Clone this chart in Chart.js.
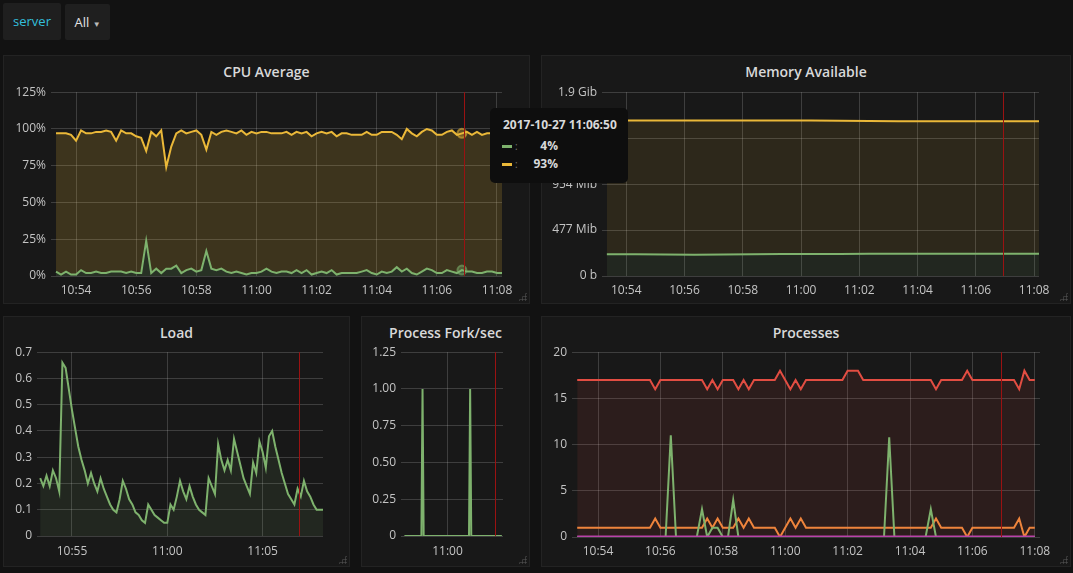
<!DOCTYPE html>
<html><head><meta charset="utf-8">
<script src="https://cdn.jsdelivr.net/npm/chart.js@4.4.0/dist/chart.umd.min.js"></script>
<style>
html,body{margin:0;padding:0;background:#121212;width:1073px;height:573px;overflow:hidden;font-family:"Open Sans",sans-serif;}
.btn{position:absolute;background:#1f1f1f;border-radius:2px;font-size:13px;text-align:center;box-sizing:border-box;}
.panel{position:absolute;background:#181818;border:1px solid #232323;box-sizing:border-box;}
.title{position:absolute;left:0;right:0;text-align:center;font-weight:600;font-size:14px;color:#d8d9da;line-height:18px;}
.grip{position:absolute;right:2px;bottom:2px;width:9px;height:9px;background:radial-gradient(circle,#4a4a4a 0.9px,transparent 1.2px) 0 0/3px 3px;clip-path:polygon(100% 0,100% 100%,0 100%);}
canvas{position:absolute;}
.tip{position:absolute;background:#0e0e0e;border-radius:5px;color:#d8d9da;font-size:12px;}
.tip .tt{position:absolute;left:13px;top:8px;font-weight:700;white-space:nowrap;line-height:18px;}
.tip .row{position:absolute;left:0;width:100%;height:18px;line-height:18px;}
.tip .sw{position:absolute;left:12px;top:8px;width:10px;height:3px;}
.tip .c{position:absolute;left:25px;top:0;color:#777;font-size:10px;}
.tip .v{position:absolute;left:30px;width:38px;text-align:right;font-weight:700;}
</style></head>
<body>
<div class="btn" style="left:3px;top:3px;width:58px;height:37px;line-height:37px;color:#33bfdc;">server</div>
<div class="btn" style="left:65px;top:4px;width:45px;height:36px;line-height:36px;color:#e3e3e3;">All <span style="font-size:8px;color:#bbb;">&#9660;</span></div>

<div class="panel" style="left:3px;top:55px;width:527px;height:249px;"><div class="title" style="top:7px;">CPU Average</div><div class="grip"></div></div>
<div class="panel" style="left:541px;top:55px;width:530px;height:249px;"><div class="title" style="top:7px;">Memory Available</div><div class="grip"></div></div>
<div class="panel" style="left:3px;top:316px;width:347px;height:251px;"><div class="title" style="top:7px;">Load</div><div class="grip"></div></div>
<div class="panel" style="left:361px;top:316px;width:169px;height:251px;"><div class="title" style="top:7px;">Process Fork/sec</div><div class="grip"></div></div>
<div class="panel" style="left:541px;top:316px;width:530px;height:251px;"><div class="title" style="top:7px;">Processes</div><div class="grip"></div></div>

<canvas id="cpu"></canvas>
<canvas id="mem"></canvas>
<canvas id="load"></canvas>
<canvas id="fork"></canvas>
<canvas id="proc"></canvas>

<div class="tip" style="left:490px;top:108px;width:138px;height:75px;">
  <div class="tt" id="tipTitle"></div>
  <div class="row" style="top:29px;"><span class="sw" style="background:#7EB26D"></span><span class="c">:</span><span class="v" id="tipV1"></span></div>
  <div class="row" style="top:47px;"><span class="sw" style="background:#EAB839"></span><span class="c">:</span><span class="v" id="tipV2"></span></div>
</div>

<script>
// ---------- DATA ----------
const times = [
 '10:53:20','10:53:30','10:53:40','10:53:50',
 '10:54:00','10:54:10','10:54:20','10:54:30','10:54:40','10:54:50',
 '10:55:00','10:55:10','10:55:20','10:55:30','10:55:40','10:55:50',
 '10:56:00','10:56:10','10:56:20','10:56:30','10:56:40','10:56:50',
 '10:57:00','10:57:10','10:57:20','10:57:30','10:57:40','10:57:50',
 '10:58:00','10:58:10','10:58:20','10:58:30','10:58:40','10:58:50',
 '10:59:00','10:59:10','10:59:20','10:59:30','10:59:40','10:59:50',
 '11:00:00','11:00:10','11:00:20','11:00:30','11:00:40','11:00:50',
 '11:01:00','11:01:10','11:01:20','11:01:30','11:01:40','11:01:50',
 '11:02:00','11:02:10','11:02:20','11:02:30','11:02:40','11:02:50',
 '11:03:00','11:03:10','11:03:20','11:03:30','11:03:40','11:03:50',
 '11:04:00','11:04:10','11:04:20','11:04:30','11:04:40','11:04:50',
 '11:05:00','11:05:10','11:05:20','11:05:30','11:05:40','11:05:50',
 '11:06:00','11:06:10','11:06:20','11:06:30','11:06:40','11:06:50',
 '11:07:00','11:07:10','11:07:20','11:07:30','11:07:40','11:07:50',
 '11:08:00','11:08:10'];

const cpuGreen = [
 3,1,3,1,1,4,2,2,3,2,
 2,3,3,3,2,3,2,2,24,2,
 5,2,5,5,7,2,4,5,3,4,
 17,5,4,5,3,2,3,2,1,2,
 2,3,5,3,2,3,3,2,4,2,
 4,1,2,3,2,4,1,2,2,2,
 2,3,4,2,1,3,2,3,6,3,
 5,2,1,3,5,4,2,2,4,3,
 2,4,3,3,2,2,3,3,2,2];
const cpuYellow = [
 94,96,94,95,91,95,95,95,95,96,
 97,95,89,96,95,94,93,92,61,96,
 90,97,69,83,90,97,93,93,96,92,
 69,93,92,93,96,96,94,97,95,96,
 95,95,93,94,95,94,95,94,94,95,
 94,94,95,95,95,94,94,95,95,94,
 94,93,94,94,95,95,96,95,90,90,
 95,95,94,95,95,95,94,94,94,96,
 94,93,95,93,96,94,94,94,95,95];

const memTimes = ['10:53:20','10:54:20','10:55:20','10:56:20','10:57:20','10:58:20','10:59:20','11:00:20',
 '11:01:20','11:02:20','11:03:20','11:04:20','11:05:20','11:06:20','11:07:20','11:08:10'];
const memGreen = [2.37e8,2.37e8,2.34e8,2.30e8,2.33e8,2.38e8,2.40e8,2.40e8,2.40e8,2.41e8,2.41e8,2.41e8,2.41e8,2.41e8,2.41e8,2.41e8];
const memYellow = [1.691e9,1.691e9,1.691e9,1.691e9,1.691e9,1.691e9,1.691e9,1.691e9,1.690e9,1.686e9,1.684e9,1.684e9,1.684e9,1.684e9,1.684e9,1.684e9];

const loadValues = [
 0.22,0.19,0.23,0.19,0.25,0.22,0.17,0.66,0.64,0.56,
 0.48,0.41,0.34,0.29,0.25,0.20,0.24,0.20,0.17,0.22,
 0.18,0.15,0.12,0.10,0.09,0.14,0.21,0.18,0.14,0.12,
 0.09,0.08,0.06,0.05,0.12,0.10,0.08,0.07,0.06,0.05,
 0.05,0.12,0.10,0.15,0.21,0.17,0.14,0.19,0.15,0.12,
 0.10,0.09,0.08,0.22,0.19,0.16,0.35,0.29,0.25,0.29,
 0.25,0.37,0.32,0.27,0.22,0.19,0.16,0.28,0.24,0.36,
 0.32,0.26,0.38,0.40,0.34,0.29,0.24,0.20,0.16,0.14,
 0.12,0.18,0.15,0.21,0.17,0.15,0.12,0.10,0.10,0.10];

const forkTimes = ['10:53:40','10:56:10','10:56:20','10:56:30','11:03:10','11:03:20','11:03:30','11:08:00'];
const forkValues = [0,0,1,0,0,1,0,0];

const procTimes = times.slice(0, 89);
const procRed = [
 17,17,17,17,17,17,17,17,17,17,17,17,17,17,17,16,17,17,17,17,
 17,17,17,17,17,16,17,16,17,17,17,16,17,16,17,17,17,17,17,18,
 17,16,17,16,17,17,17,17,17,17,17,17,18,18,18,17,17,17,17,17,
 17,17,17,17,17,17,17,17,17,16,17,17,17,17,17,18,17,17,17,17,
 17,17,17,17,17,16,18,17,17];
const procOrange = [
 1,1,1,1,1,1,1,1,1,1,1,1,1,1,1,2,1,1,1,1,
 1,1,1,1,1,2,1,2,1,1,1,2,1,2,1,1,1,1,1,0,
 1,2,1,2,1,1,1,1,1,1,1,1,1,1,1,1,1,1,1,1,
 1,1,1,1,1,1,1,1,1,2,1,1,1,1,1,0,1,1,1,1,
 1,1,1,1,1,2,0,1,1];
const procGreen = [
 0,0,0,0,0,0,0,0,0,0,0,0,0,0,0,0,0,0,11,0,
 0,0,0,0,3,0,1,1,0,0,4,0,0,0,0,0,0,0,0,0,
 0,0,0,0,0,0,0,0,0,0,0,0,0,0,0,0,0,0,0,0,
 10.8,0,0,0,0,0,0,0,3,0,0,0,0,0,0,0,0,0,0,0,
 0,0,0,0,0,0,0,0,0];
const procMagenta = [
 0,0,0,0,0,0,0,0,0,0,0,0,0,0,0,0,0,0,0,0,
 0,0,0,0,0,0,0,0,0,0,0,0,0,0,0,0,0,0,0,0,
 0,0,0,0,0,0,0,0,0,0,0,0,0,0,0,0,0,0,0,0,
 0,0,0,0,0,0,0,0,0,0,0,0,0,0,0,0,0,0,0,0,
 0,0,0,0,0,0,0,0,0];

const xTicksWide = ['10:54','10:56','10:58','11:00','11:02','11:04','11:06','11:08'];
const xTicksLoad = ['10:55','11:00','11:05'];
const xTicksFork = ['11:00'];
const cpuYValues = [0,25,50,75,100,125];
const cpuYLabels = ['0%','25%','50%','75%','100%','125%'];
const memYValues = [0,5e8,1e9,1.5e9,2e9];
const memYLabels = ['0 b','477 Mib','954 Mib','1.4 Gib','1.9 Gib'];
const loadYValues = [0,0.1,0.2,0.3,0.4,0.5,0.6,0.7];
const loadYLabels = ['0','0.1','0.2','0.3','0.4','0.5','0.6','0.7'];
const forkYValues = [0,0.25,0.5,0.75,1,1.25];
const forkYLabels = ['0','0.25','0.50','0.75','1.00','1.25'];
const procYValues = [0,5,10,15,20];
const procYLabels = ['0','5','10','15','20'];

const rangeStart = '10:53:10', rangeEnd = '11:08:10';
const crossTime = '11:06:55';
const hoverIndex = 81;
const tooltipDate = '2017-10-27';

// ---------- RENDER ----------
function toSec(s){ const p = s.split(':').map(Number); return p[0]*3600 + p[1]*60 + (p[2]||0); }
function fmtHM(v){ const h = Math.floor(v/3600), m = Math.floor((v%3600)/60); return String(h).padStart(2,'0')+':'+String(m).padStart(2,'0'); }
function pts(ts, vs){ return vs.map((v,i)=>({x:toSec(ts[i]), y:v})); }

const GREEN='#7EB26D', YELLOW='#EAB839', RED='#E24D42', ORANGE='#EF843C', MAGENTA='#BA43A9';
const gridColor='rgba(255,255,255,0.17)', tickColor='#c4c4c4';
const tickFont={family:'"Open Sans", sans-serif', size:12};

const crossPlugin = {
  id:'cross',
  afterDatasetsDraw(chart){
    const x = Math.round(chart.scales.x.getPixelForValue(toSec(crossTime))) + 0.5;
    const a = chart.chartArea, ctx = chart.ctx;
    ctx.save(); ctx.strokeStyle='#9a1212'; ctx.lineWidth=1;
    ctx.beginPath(); ctx.moveTo(x, a.top); ctx.lineTo(x, a.bottom); ctx.stroke(); ctx.restore();
  }
};

function make(id, box, datasets, o){
  const cv = document.getElementById(id);
  cv.style.left = box.l+'px'; cv.style.top = box.t+'px';
  cv.width = box.w; cv.height = box.h;
  cv.style.width = box.w+'px'; cv.style.height = box.h+'px';
  return new Chart(cv, {
    type:'line',
    data:{datasets},
    plugins:[crossPlugin],
    options:{
      responsive:false, animation:false, events:[],
      layout:{padding:{top:o.pt, right:o.pr, left:0, bottom:0}},
      plugins:{legend:{display:false}, tooltip:{enabled:false}},
      elements:{point:{radius:0}, line:{tension:0, borderWidth:2}},
      scales:{
        x:{type:'linear', min:toSec(rangeStart), max:toSec(rangeEnd),
          afterBuildTicks:s=>{ s.ticks = o.xTicks.map(t=>({value:toSec(t)})); },
          afterFit:s=>{ s.height = o.hx; },
          ticks:{autoSkip:false, maxRotation:0, padding:o.xpad, color:tickColor, font:tickFont, callback:v=>fmtHM(v)},
          grid:{color:gridColor, drawTicks:false}, border:{display:false}},
        y:{type:'linear', min:0, max:o.yVals[o.yVals.length-1], stacked:!!o.stacked,
          afterBuildTicks:s=>{ s.ticks = o.yVals.map(v=>({value:v})); },
          afterFit:s=>{ s.width = o.wy; },
          ticks:{padding:5, color:tickColor, font:tickFont, callback:(v,i)=>o.yLabels[i]},
          grid:{color:gridColor, drawTicks:false}, border:{display:false}}
      }
    }
  });
}

function hoverR(ctx){ return ctx.dataIndex===hoverIndex ? 4.5 : 0; }

function draw(){
  make('cpu', {l:4,t:80,w:524,h:222}, [
    {data:pts(times,cpuGreen), borderColor:GREEN, backgroundColor:'rgba(126,178,109,0.17)', fill:'origin',
     pointRadius:hoverR, pointBackgroundColor:'rgba(126,178,109,0.35)', pointBorderColor:'rgba(126,178,109,0.55)', pointBorderWidth:2},
    {data:pts(times,cpuYellow), borderColor:YELLOW, backgroundColor:'rgba(234,184,57,0.18)', fill:'-1',
     pointRadius:hoverR, pointBackgroundColor:'rgba(234,184,57,0.35)', pointBorderColor:'rgba(234,184,57,0.55)', pointBorderWidth:2}
  ], {pt:10, pr:26, wy:47, hx:26, xpad:7, xTicks:xTicksWide, yVals:cpuYValues, yLabels:cpuYLabels, stacked:true});

  make('mem', {l:542,t:80,w:527,h:222}, [
    {data:pts(memTimes,memGreen), borderColor:GREEN, backgroundColor:'rgba(126,178,109,0.1)', fill:'origin'},
    {data:pts(memTimes,memYellow), borderColor:YELLOW, backgroundColor:'rgba(234,184,57,0.1)', fill:'-1'}
  ], {pt:10, pr:30, wy:60, hx:26, xpad:7, xTicks:xTicksWide, yVals:memYValues, yLabels:memYLabels});

  make('load', {l:4,t:340,w:344,h:225}, [
    {data:pts(times,loadValues), borderColor:GREEN, backgroundColor:'rgba(126,178,109,0.1)', fill:'origin'}
  ], {pt:11, pr:25, wy:33, hx:29, xpad:8, xTicks:xTicksLoad, yVals:loadYValues, yLabels:loadYLabels});

  make('fork', {l:362,t:340,w:166,h:225}, [
    {data:pts(forkTimes,forkValues), borderColor:GREEN, backgroundColor:'rgba(126,178,109,0.1)', fill:'origin'}
  ], {pt:11, pr:25, wy:39, hx:29, xpad:8, xTicks:xTicksFork, yVals:forkYValues, yLabels:forkYLabels});

  make('proc', {l:542,t:340,w:527,h:225}, [
    {data:pts(procTimes,procMagenta), borderColor:MAGENTA, borderWidth:3, fill:false},
    {data:pts(procTimes,procGreen), borderColor:GREEN, fill:false},
    {data:pts(procTimes,procOrange), borderColor:ORANGE, fill:false},
    {data:pts(procTimes,procRed), borderColor:RED, backgroundColor:'rgba(226,77,66,0.1)', fill:'origin'}
  ], {pt:11, pr:29, wy:30, hx:28, xpad:7, xTicks:xTicksWide, yVals:procYValues, yLabels:procYLabels});

  document.getElementById('tipTitle').textContent = tooltipDate + ' ' + times[hoverIndex];
  document.getElementById('tipV1').textContent = cpuGreen[hoverIndex] + '%';
  document.getElementById('tipV2').textContent = cpuYellow[hoverIndex] + '%';
}
if (document.fonts && document.fonts.ready) document.fonts.ready.then(draw); else draw();
</script>
</body></html>
